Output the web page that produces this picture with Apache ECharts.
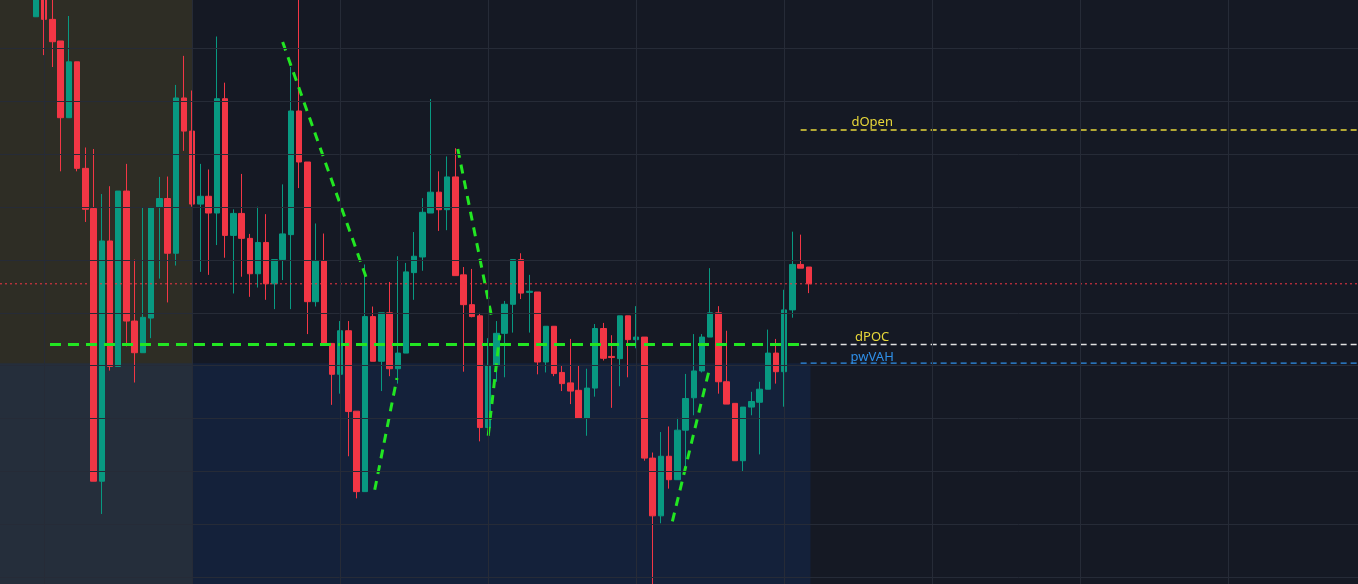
<!DOCTYPE html>
<html><head><meta charset="utf-8">
<script src="https://cdn.jsdelivr.net/npm/echarts@6/dist/echarts.min.js"></script>
<style>html,body{margin:0;background:#151924}#c{width:1358px;height:584px}</style>
</head><body><div id="c"></div>
<script>
// candles: [open, close, low, high]
const candles = [
[1555,1610,1555,1630],[1615,1548,1452,1630],[1548,1488,1420,1620],[1490,1284,1140,1490],[1284,1434,1284,1557],
[1434,1148,1140,1434],[1148,1038,1004,1204],[1040,308,308,1200],[308,953,220,1079],[953,616,605,1100],
[616,1087,616,1087],[1087,738,670,1160],[738,653,573,903],[653,748,653,1042],[746,1043,692,1043],
[1043,1067,852,1125],[1067,920,788,1126],[920,1337,887,1372],[1337,1248,1195,1450],[1248,1052,1045,1357],
[1052,1073,870,1160],[1073,1028,862,1145],[1028,1335,942,1502],[1335,968,908,1378],[968,1027,812,1038],
[1027,960,857,1133],[960,865,803,972],[865,949,828,1045],[949,838,795,1025],[838,903,770,903],
[903,972,848,1105],[970,1302,770,1420],[1302,1165,1095,1620],[1165,790,703,1165],[790,900,777,1000],
[900,678,678,973],[678,595,513,678],[595,712,543,738],[712,495,375,738],[496,280,262,496],
[280,750,280,890],[750,630,630,777],[630,760,550,760],[760,610,590,843],[610,652,570,912],
[652,870,652,894],[868,912,795,977],[910,1030,873,1068],[1028,1084,1028,1334],[1084,1037,980,1140],
[1037,1125,982,1180],[1125,860,860,1202],[862,782,602,883],[782,750,748,878],[752,452,415,760],
[452,618,452,692],[618,705,575,738],[705,783,587,792],[783,903,707,903],[903,813,797,920],
[815,818,707,862],[816,628,595,816],[628,724,600,724],[724,597,590,724],[600,570,550,618],
[572,550,515,690],[552,477,477,618],[477,558,430,610],[558,718,535,730],[718,638,632,733],
[643,640,505,700],[637,752,563,752],[752,688,587,752],[688,695,665,778],[695,370,363,695],
[370,215,0,385],[215,375,195,440],[375,312,288,455],[312,445,312,478],[445,530,335,596],
[532,604,485,703],[604,695,600,703],[695,760,695,880],[760,575,543,778],[575,515,515,712],
[517,363,363,517],[363,507,335,507],[507,522,485,548],[520,555,380,575],[555,652,555,715],
[652,602,570,690],[602,768,508,822],[768,890,747,978],[890,880,880,970],[883,838,813,883]
];
const gridPrices = [50,192,334,476,618,760,902,1044,1186,1328,1470];
const gridIdx = [1,19,37,55,73,91,109,127,145];
const levels = {dOpen:1251, dPOC:675, pwVAH:625, last:838};
const greenPOC = [[1.7,675],[93.5,675]];
const trendLines = [
 [[30.0,1487],[40.4,840]],
 [[51.3,1200],[55.5,740]],
 [[41.2,285],[43.9,585]],
 [[55.0,430],[56.4,700]],
 [[77.4,200],[81.8,600]]
];
const olivEnd = 19.1, blueEnd = 94.2;

const chart = echarts.init(document.getElementById('c'));
const xMin = -4.38, xMax = 160.79, lvlStart = 93;
const series = [
 {type:'line',data:[],silent:true,
  markArea:{silent:true,data:[
   [{xAxis:xMin,yAxis:32,itemStyle:{color:'rgba(78,72,40,0.45)'}},{xAxis:olivEnd,yAxis:1600}],
   [{xAxis:xMin,yAxis:32,itemStyle:{color:'rgba(20,50,100,0.35)'}},{xAxis:blueEnd,yAxis:levels.pwVAH}]
  ]},
  markLine:{silent:true,symbol:'none',label:{show:false},lineStyle:{color:'#262b37',width:1,type:'solid'},
   data:[...gridPrices.map(p=>({yAxis:p})),...gridIdx.map(i=>({xAxis:i}))]}
 },
 {type:'candlestick',data:candles.map((c,i)=>[i,...c]),encode:{x:0,y:[1,2,3,4]},barWidth:6,clip:true,
  itemStyle:{color:'#089981',color0:'#f23645',borderColor:'#089981',borderColor0:'#f23645',borderWidth:1}},
 {type:'line',data:[[xMin,levels.last],[xMax,levels.last]],symbol:'none',lineStyle:{color:'#f23645',width:1,type:[2,3]}},
 {type:'line',data:[[lvlStart,levels.dOpen],[xMax,levels.dOpen]],symbol:'none',lineStyle:{color:'#e8d83a',width:1.3,type:[6,4]}},
 {type:'line',data:[[lvlStart,levels.dPOC],[xMax,levels.dPOC]],symbol:'none',lineStyle:{color:'#e0e0e0',width:1.3,type:[6,4]}},
 {type:'line',data:[[lvlStart,levels.pwVAH],[xMax,levels.pwVAH]],symbol:'none',lineStyle:{color:'#2f8fe8',width:1.3,type:[6,4]}},
 {type:'line',data:greenPOC,symbol:'none',lineStyle:{color:'#22e622',width:3,type:[11,7]}},
 ...trendLines.map(t=>({type:'line',data:t,symbol:'none',lineStyle:{color:'#22e622',width:3,type:[9,7]}}))
];
chart.setOption({
 backgroundColor:'#151924',animation:false,
 grid:{left:0,right:0,top:0,bottom:0},
 xAxis:{type:'value',min:xMin,max:xMax,show:false,splitLine:{show:false}},
 yAxis:{type:'value',min:32,max:1600,show:false,splitLine:{show:false}},
 series
});
const lab = (txt,price,color,dy,va)=>{
 const p = chart.convertToPixel({xAxisIndex:0,yAxisIndex:0},[101.7,price]);
 return {type:'text',x:p[0],y:p[1]+dy,style:{text:txt,fill:color,font:'13px "Noto Sans", sans-serif',align:'center',verticalAlign:va}};
};
chart.setOption({graphic:[lab('dOpen',levels.dOpen,'#e8d83a',-1,'bottom'),lab('dPOC',levels.dPOC,'#e8d83a',-1,'bottom'),
 lab('pwVAH',levels.pwVAH,'#2f8fe8',1,'bottom')]});
</script></body></html>
